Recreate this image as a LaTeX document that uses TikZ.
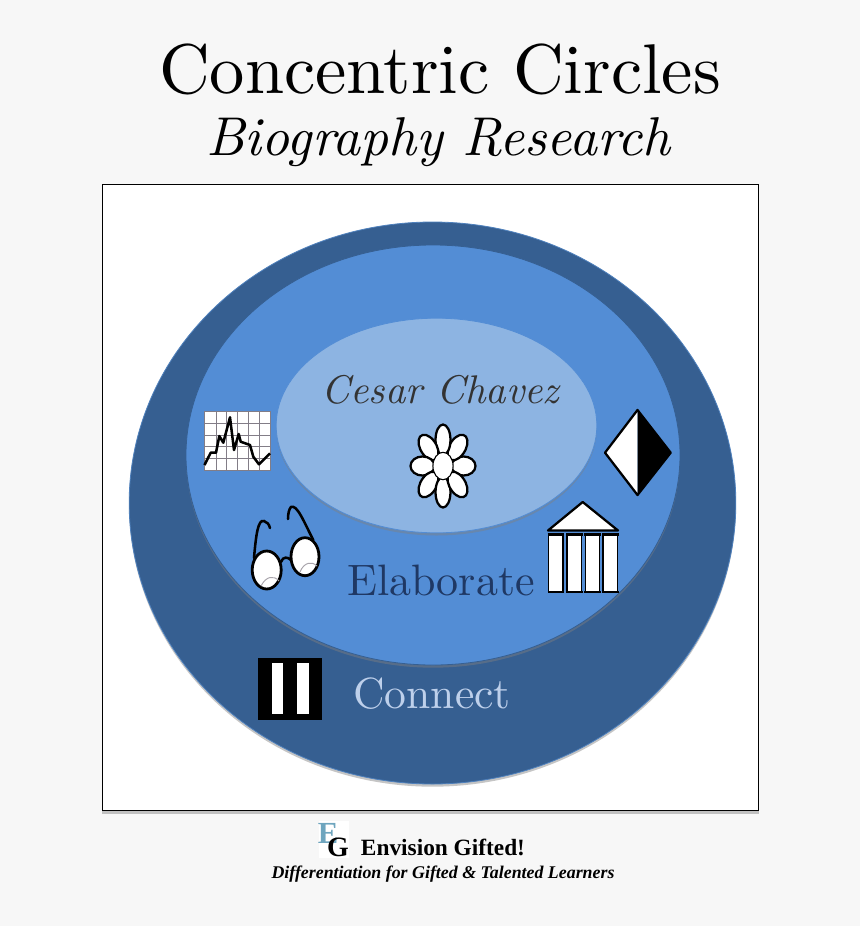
\documentclass[tikz,border=0pt]{standalone}
\usepackage{fontspec}
\usetikzlibrary{shapes,shadows}
\newfontfamily\logofont{Liberation Serif}
\definecolor{pagegrey}{RGB}{247,247,247}
\definecolor{connectblue}{RGB}{54,95,145}
\definecolor{connectedge}{RGB}{79,129,189}
\definecolor{elaborateblue}{RGB}{83,141,213}
\definecolor{coreblue}{RGB}{141,180,226}
\definecolor{elaboratetext}{RGB}{31,56,100}
\definecolor{connecttext}{RGB}{190,208,235}
\definecolor{coretext}{RGB}{51,51,51}
\definecolor{gridgrey}{RGB}{130,125,135}
\definecolor{logoteal}{RGB}{110,165,190}
\tikzset{
  ring/.style={ellipse, inner sep=0pt, line width=0.6pt, fill=#1,
    drop shadow={shadow xshift=0pt, shadow yshift=-2pt, opacity=0.45}},
  icon/.style={draw=black, fill=white, line width=1.7pt, line join=round},
  lens/.style={draw=black, fill=white, line width=2.1pt},
  wire/.style={draw=black, line width=1.9pt, line cap=round}
}

\begin{document}
\begin{tikzpicture}[x=0.75pt, y=-0.75pt]
    % Page and frame
    \fill[pagegrey] (0,0) rectangle (860,926);
    \useasboundingbox (0,0) rectangle (860,926);
    \node[rectangle, draw=black, line width=0.8pt, fill=white, minimum width=492.5pt, minimum height=470pt, inner sep=0pt,
      drop shadow={shadow xshift=0pt, shadow yshift=-2pt, opacity=0.45}] (frame) at (430.5,497.5) {};

    % Title
    \node[anchor=base] (title) at (440,93) {\scalebox{5.28}{Concentric Circles}};
    \node[anchor=base] (subtitle) at (438.5,155) {\scalebox{4.1}{\itshape Biography Research}};

    % Circles
    \node[ring=connectblue, draw=connectedge, minimum width=455pt, minimum height=421.5pt] (connect) at (432.5,503) {};
    \node[ring=elaborateblue, draw=connectblue, minimum width=370.5pt, minimum height=315pt] (elaborate) at (433,455) {};
    \node[ring=coreblue, draw=elaborateblue, minimum width=240.5pt, minimum height=161pt] (core) at (436.5,425.5) {};

    % Labels
    \node[anchor=base, text=coretext] (corelabel) at (440.5,403) {\scalebox{3.0}{\itshape Cesar Chavez}};
    \node[anchor=base, text=elaboratetext] (elaboratelabel) at (441,595) {\scalebox{3.3}{Elaborate}};
    \node[anchor=base, text=connecttext] (connectlabel) at (432,708) {\scalebox{3.27}{Connect}};

    % Flower
    \begin{scope}[shift={(443,466)}, xscale=32.5, yscale=41.5]
        \foreach \ang in {0,45,...,315} {
            \draw[icon, rotate=\ang] (0.63,0) ellipse [x radius=0.37, y radius=0.23];
        }
        \draw[draw=black, fill=white, line width=0.8pt] (0,0) ellipse [x radius=0.31, y radius=0.33];
    \end{scope}

    % Diamond
    \fill[white] (637.5,410) -- (605,452.7) -- (637.5,495) -- cycle;
    \fill[black] (637.5,410) -- (670.7,452.7) -- (637.5,495) -- cycle;
    \draw[black, line width=1.7pt, line join=round] (637.5,410) -- (605,452.7) -- (637.5,495) -- (670.7,452.7) -- cycle;

    % Temple
    \draw[icon] (582.7,502) -- (548,530.5) -- (618,530.5) -- cycle;
    \foreach \colx in {548.5,567,585.3,603} {
        \draw[draw=black, fill=white, line width=1pt] (\colx,534.5) rectangle ++(14.5,57.5);
        \draw[black, line width=1.6pt] (\colx-1,534.5) -- ++(16.5,0);
        \draw[black, line width=1.6pt] (\colx-1,592) -- ++(16.5,0);
    }

    % Chart
    \draw[draw=gridgrey, fill=white, line width=0.8pt] (204.3,411.7) rectangle (270.7,470.7);
    \foreach \gridx in {216,226.7,237.7,248.7,259.7} {
        \draw[gridgrey, line width=0.7pt] (\gridx,411.7) -- (\gridx,470.7);
    }
    \foreach \gridy in {423.3,435,446.7,458.3} {
        \draw[gridgrey, line width=0.7pt] (204.3,\gridy) -- (270.7,\gridy);
    }
    \draw[black, line width=1.9pt, line join=round] (204.5,465) -- (210.7,452.7) -- (216,452.7) -- (219.3,436) -- (223.3,442.7) -- (230,417.3) -- (234,450) -- (238.7,434) -- (240.7,441.7) -- (250,445) -- (253.3,456.7) -- (259,464.3) -- (270,453.3);

    % Glasses
    \draw[wire] (254,558) .. controls (256,535) and (258,519) .. (264,521) .. controls (267,522) and (269,524) .. (270,528);
    \draw[wire] (313.3,540) .. controls (304,522) and (297,504) .. (291,507) .. controls (289,509) and (288,514) .. (288,519);
    \draw[wire] (281,562) .. controls (283,556) and (288,557) .. (291,560);
    \draw[lens] (266.7,570) ellipse [x radius=14.5, y radius=19];
    \draw[lens] (305,556.7) ellipse [x radius=14, y radius=19];
    \draw[gridgrey!70, line width=0.7pt] (261,586) .. controls (266,576) and (274,575) .. (279,581);
    \draw[gridgrey!70, line width=0.7pt] (300,572) .. controls (304,562) and (312,561) .. (317,566);

    % Bars
    \fill[black] (257.7,658.3) rectangle (322.3,720.3);
    \fill[white] (271.7,663.3) rectangle (283.3,714);
    \fill[white] (297,663.3) rectangle (309,714);

    % Logo
    \fill[white] (319,821) rectangle (349,858);
    \node[anchor=base, text=logoteal, font=\logofont\bfseries\fontsize{23}{26}\selectfont] (logoe) at (328,843) {E};
    \node[anchor=base, font=\logofont\bfseries\fontsize{21}{24}\selectfont] (logog) at (338,856) {G};
    \node[anchor=base, font=\logofont\bfseries\fontsize{17.5}{20}\selectfont] (brand) at (443,855) {Envision Gifted!};
    \node[anchor=base, font=\logofont\bfseries\itshape\fontsize{13.4}{16}\selectfont] (tagline) at (443,878) {Differentiation for Gifted \& Talented Learners};
\end{tikzpicture}
\end{document}
